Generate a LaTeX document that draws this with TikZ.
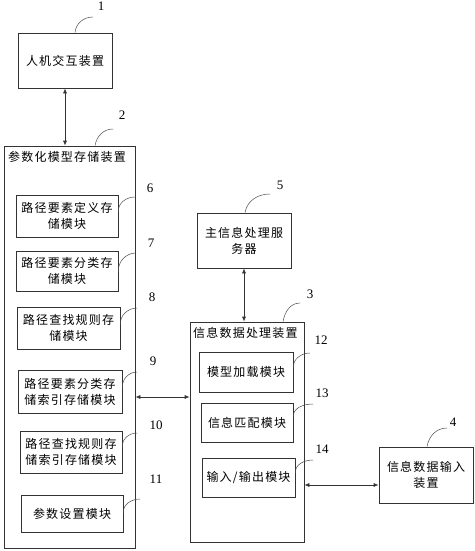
\documentclass[tikz,border=0pt]{standalone}
\usepackage{fontspec}
\setmainfont{Liberation Serif}
\newfontfamily\cjk[LetterSpace=10]{Noto Sans CJK SC}
\usetikzlibrary{arrows.meta}
\tikzset{
  box/.style={draw=black!80, line width=0.7pt, inner sep=0pt, font=\cjk\fontsize{12}{16}\selectfont, align=center},
  ttl/.style={inner sep=0pt, anchor=west, font=\cjk\fontsize{12}{16}\selectfont},
  num/.style={font=\fontsize{13}{13}\selectfont, inner sep=0pt},
  lead/.style={draw=black!70, line width=0.5pt},
  conn/.style={draw=black!80, line width=0.7pt, {Latex[length=5pt,width=4pt]}-{Latex[length=5pt,width=4pt]}}
}
\begin{document}
\begin{tikzpicture}[x=1pt,y=-1pt]
\useasboundingbox (0,0) rectangle (474,551);
% main boxes
\node[box, minimum width=94, minimum height=55] (b1) at (65,60.5) {人机交互装置};
\node[box, minimum width=131, minimum height=402] (b2) at (69.5,347) {};
\node[ttl] (t2) at (8,157) {参数化模型存储装置};
\node[box, minimum width=102, minimum height=42] (b6) at (67,216) {路径要素定义存\\储模块};
\node[box, minimum width=102, minimum height=40] (b7) at (67,271) {路径要素分类存\\储模块};
\node[box, minimum width=103, minimum height=42] (b8) at (68.5,328) {路径查找规则存\\储模块};
\node[box, minimum width=104, minimum height=43] (b9) at (70,391.5) {路径要素分类存\\储索引存储模块};
\node[box, minimum width=102, minimum height=42] (b10) at (71,452) {路径查找规则存\\储索引存储模块};
\node[box, minimum width=102, minimum height=37] (b11) at (72,513.5) {参数设置模块};
\node[box, minimum width=94, minimum height=55] (b5) at (244,240.5) {主信息处理服\\务器};
\node[box, minimum width=114, minimum height=220] (b3) at (247,432) {};
\node[ttl] (t3) at (193,333) {信息数据处理装置};
\node[box, minimum width=94, minimum height=40] (b12) at (246,372) {模型加载模块};
\node[box, minimum width=92, minimum height=39] (b13) at (247,422.5) {信息匹配模块};
\node[box, minimum width=93, minimum height=39] (b14) at (248.5,477.5) {输入/输出模块};
\node[box, minimum width=94, minimum height=56] (b4) at (426,475) {信息数据输入\\装置};
% connectors
\coordinate (y9) at (0,397);
\coordinate (y14) at (0,485);
\draw[conn] (b1.south) -- (b1.south |- b2.north);
\draw[conn] (b5.south) -- (b5.south |- b3.north);
\draw[conn] (b2.east |- y9) -- (b3.west |- y9);
\draw[conn] (b3.east |- y14) -- (b4.west |- y14);
% labels
\node[num] (n1) at (101,6) {1};
\node[num] (n2) at (122,115) {2};
\node[num] (n6) at (150,188) {6};
\node[num] (n7) at (151,243) {7};
\node[num] (n8) at (152,297) {8};
\node[num] (n9) at (153,361) {9};
\node[num] (n10) at (156,425) {10};
\node[num] (n11) at (156,479) {11};
\node[num] (n5) at (280,185) {5};
\node[num] (n3) at (310,294) {3};
\node[num] (n12) at (321,340) {12};
\node[num] (n13) at (322,393) {13};
\node[num] (n14) at (322,449) {14};
\node[num] (n4) at (453,422) {4};
% leader ends
\coordinate (e1) at (93,17);
\coordinate (e2) at (113,129);
\coordinate (e6) at (135,197);
\coordinate (e7) at (136,253);
\coordinate (e8) at (137,308);
\coordinate (e9) at (137,372);
\coordinate (e10) at (137,433);
\coordinate (e11) at (140,499);
\coordinate (e5) at (270,194);
\coordinate (e3) at (300,303);
\coordinate (e12) at (310,353);
\coordinate (e13) at (313,404);
\coordinate (e14) at (313,460);
\coordinate (e4) at (447,428);
% leaders
\draw[lead] (b1.north -| 75,0) to[out=85,in=180] (e1);
\draw[lead] (b2.north -| 95,0) to[out=80,in=180] (e2);
\draw[lead] (b6.east |- 0,212) to[out=95,in=180] (e6);
\draw[lead] (b7.east |- 0,272) to[out=95,in=180] (e7);
\draw[lead] (b8.east |- 0,325) to[out=95,in=180] (e8);
\draw[lead] (b9.east |- 0,388) to[out=95,in=180] (e9);
\draw[lead] (b10.east |- 0,447) to[out=95,in=180] (e10);
\draw[lead] (b11.east |- 0,513) to[out=95,in=180] (e11);
\draw[lead] (b5.north -| 245,0) to[out=80,in=180] (e5);
\draw[lead] (b3.north -| 283,0) to[out=80,in=180] (e3);
\draw[lead] (b12.east |- 0,368) to[out=95,in=180] (e12);
\draw[lead] (b13.east |- 0,417) to[out=95,in=180] (e13);
\draw[lead] (b14.east |- 0,473) to[out=95,in=180] (e14);
\draw[lead] (b4.north -| 427,0) to[out=80,in=180] (e4);
\end{tikzpicture}
\end{document}
